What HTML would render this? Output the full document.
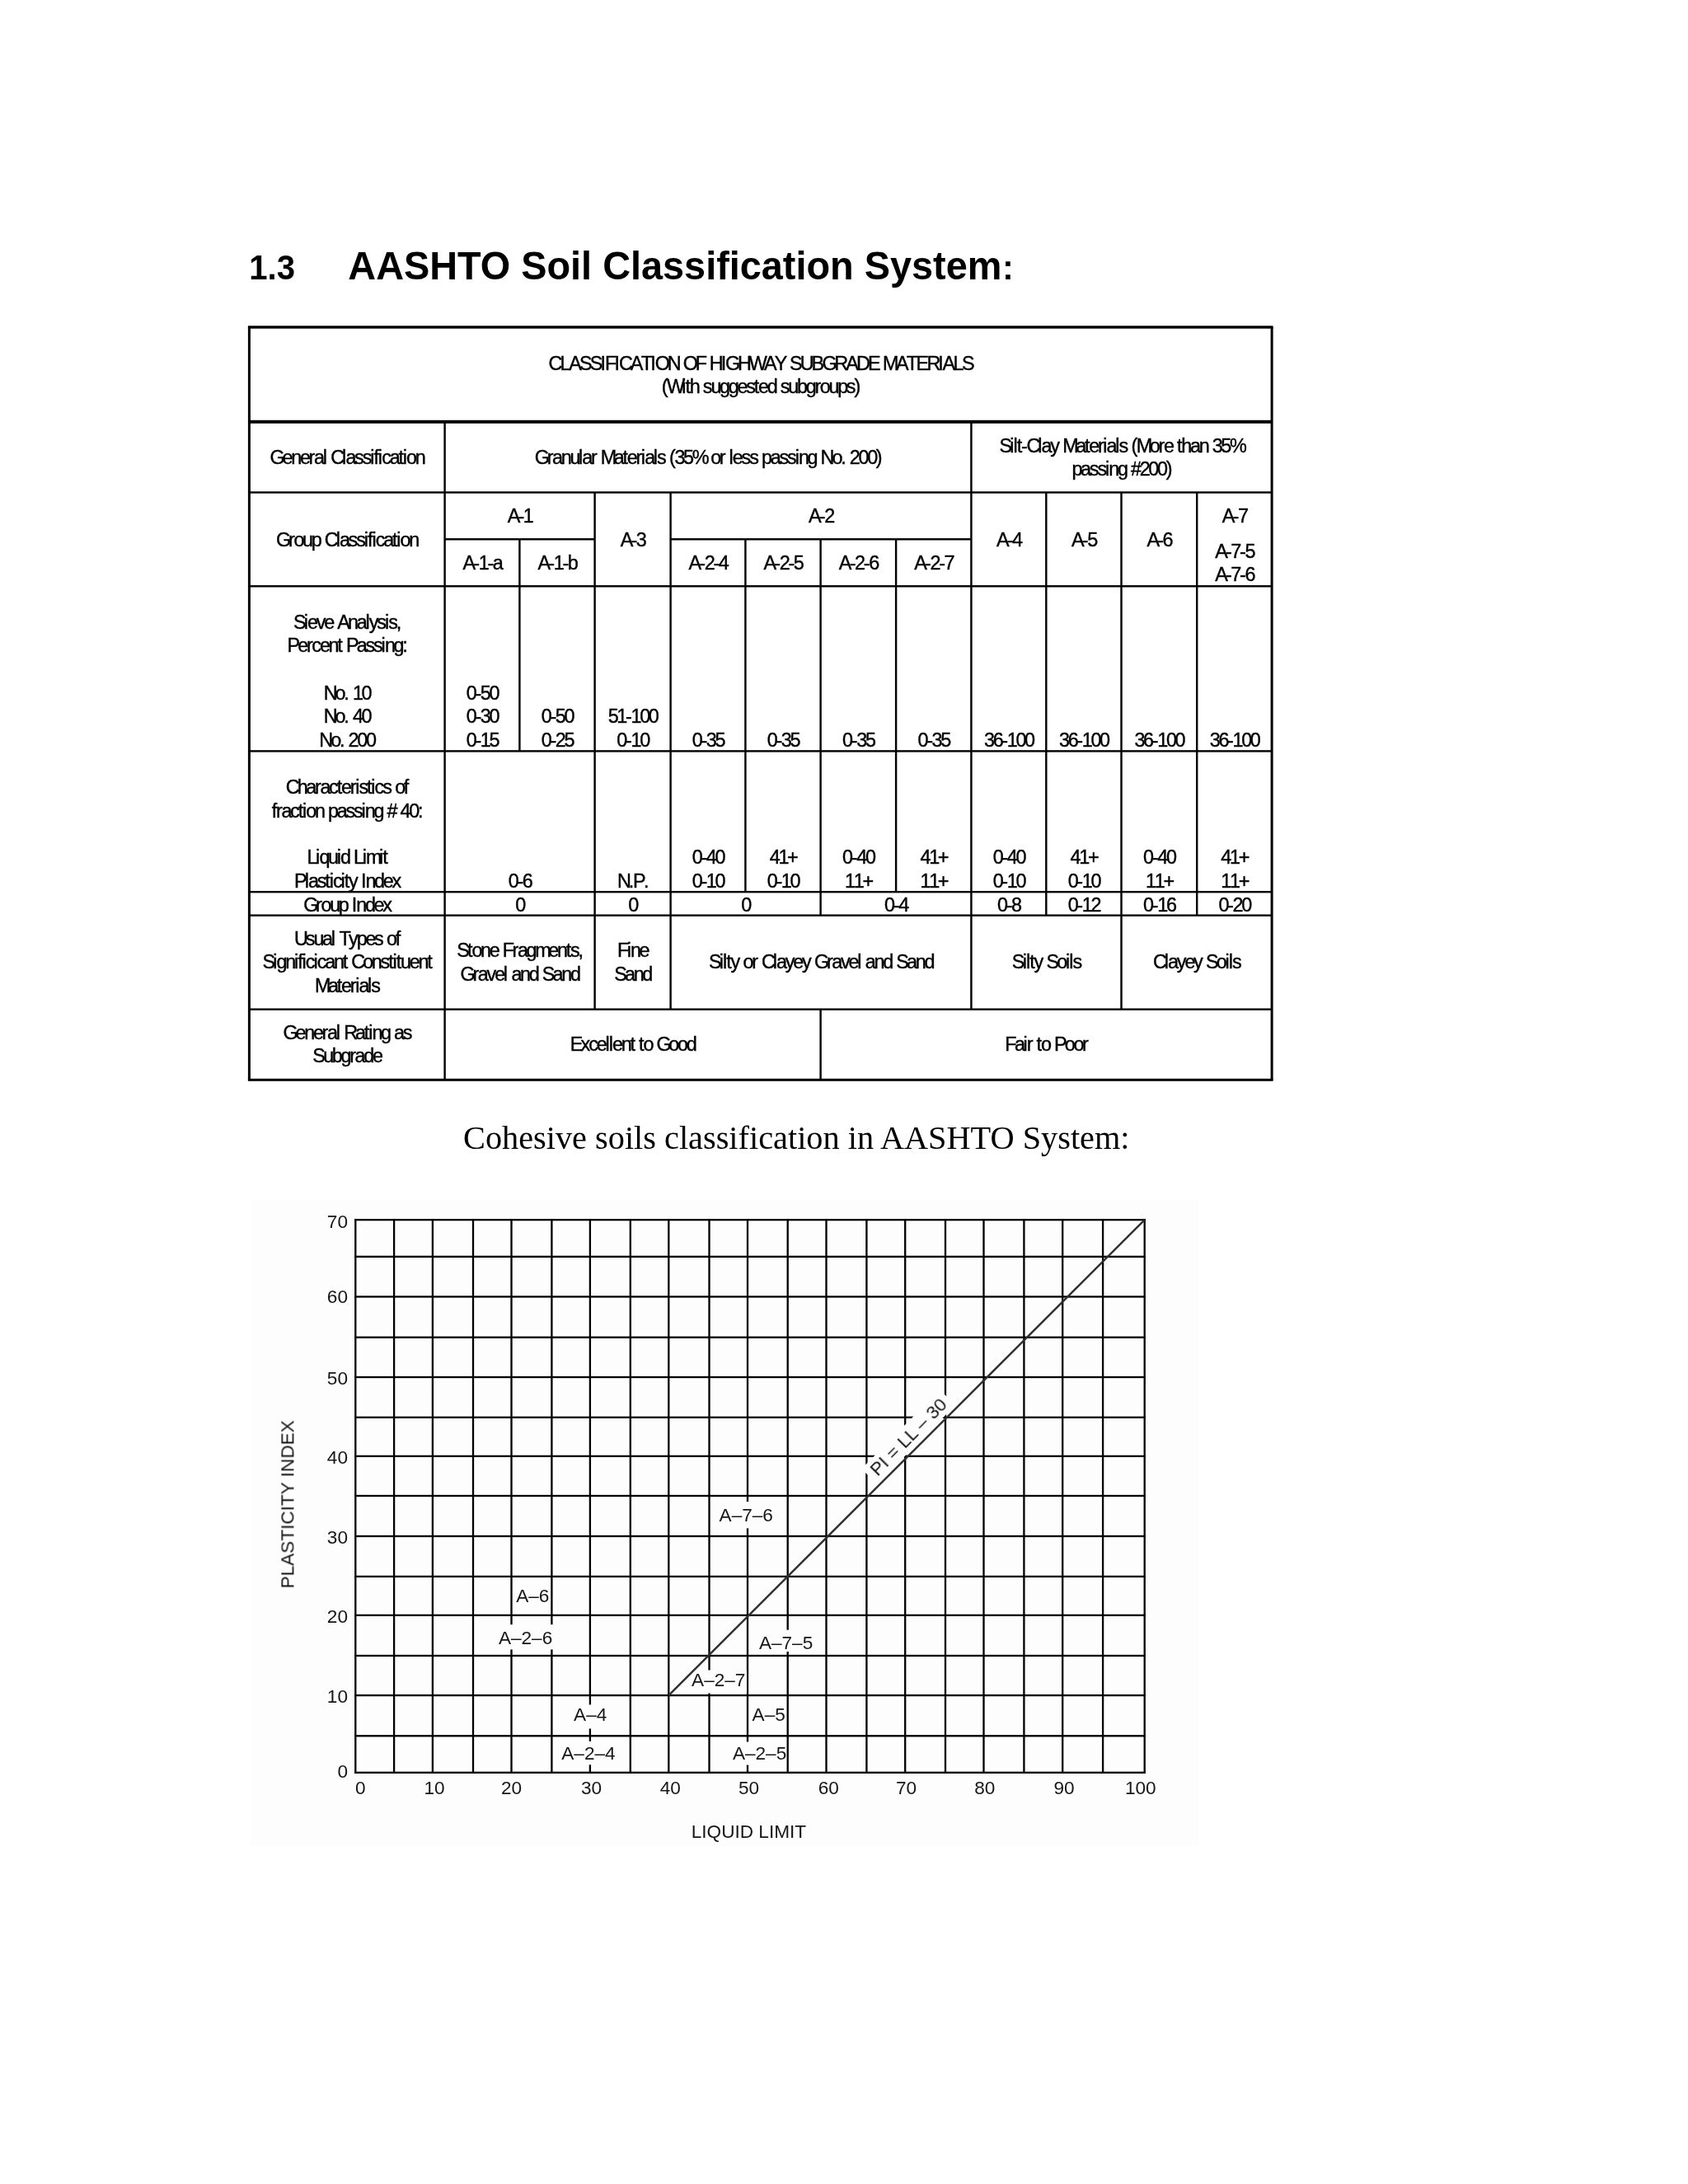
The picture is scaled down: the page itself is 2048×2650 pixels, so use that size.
<!DOCTYPE html>
<html><head><meta charset="utf-8"><title>AASHTO Soil Classification System</title>
<style>
html,body{margin:0;padding:0;background:#fff;}
body{width:2048px;height:2650px;position:relative;overflow:hidden;font-family:"Liberation Sans",sans-serif;}
svg{position:absolute;left:0;top:0;will-change:transform;}
.t{font-family:"Liberation Sans",sans-serif;font-size:23.42px;fill:#000;stroke:#000;stroke-width:0.4px;}
.c{font-family:"Liberation Sans",sans-serif;font-size:22.6px;fill:#161616;filter:url(#sb);}
.h1{font-family:"Liberation Sans",sans-serif;font-weight:bold;fill:#000;}
.s{font-family:"Liberation Serif",serif;font-size:40.3px;fill:#000;}
</style></head><body>
<svg width="2048" height="2650" viewBox="0 0 2048 2650">
<defs><filter id="sb" x="-10%" y="-30%" width="120%" height="160%"><feGaussianBlur stdDeviation="0.45"/></filter></defs>
<text class="h1" transform="translate(302.2 339) scale(1 1.045)" font-size="40.15">1.3</text>
<text class="h1" transform="translate(422.3 339) scale(1 1.045)" font-size="46.85">AASHTO Soil Classification System<tspan font-size="40.15" dx="0.8">:</tspan></text>
<g fill="#000">
<rect x="300.90" y="395.30" width="1243.70" height="3.40"/>
<rect x="300.90" y="1308.80" width="1243.70" height="3.00"/>
<rect x="300.90" y="397.00" width="3.00" height="913.30"/>
<rect x="1541.60" y="397.00" width="3.00" height="913.30"/>
<rect x="302.40" y="509.80" width="1240.70" height="4.00"/>
<rect x="302.40" y="596.30" width="1240.70" height="2.40"/>
<rect x="302.40" y="710.10" width="1240.70" height="2.40"/>
<rect x="302.40" y="910.20" width="1240.70" height="2.40"/>
<rect x="302.40" y="1081.00" width="1240.70" height="2.40"/>
<rect x="302.40" y="1109.50" width="1240.70" height="2.40"/>
<rect x="302.40" y="1223.50" width="1240.70" height="2.40"/>
<rect x="539.60" y="653.10" width="182.00" height="2.40"/>
<rect x="813.60" y="653.10" width="364.80" height="2.40"/>
<rect x="538.40" y="511.80" width="2.40" height="798.50"/>
<rect x="1177.20" y="511.80" width="2.40" height="712.90"/>
<rect x="629.20" y="654.30" width="2.40" height="257.10"/>
<rect x="720.40" y="597.50" width="2.40" height="627.20"/>
<rect x="812.40" y="597.50" width="2.40" height="627.20"/>
<rect x="903.20" y="654.30" width="2.40" height="427.90"/>
<rect x="994.40" y="654.30" width="2.40" height="456.40"/>
<rect x="994.40" y="1224.70" width="2.40" height="85.60"/>
<rect x="1085.90" y="654.30" width="2.40" height="427.90"/>
<rect x="1268.10" y="597.50" width="2.40" height="513.20"/>
<rect x="1359.30" y="597.50" width="2.40" height="627.20"/>
<rect x="1451.00" y="597.50" width="2.40" height="513.20"/>
</g>
<text class="t" transform="translate(0 449.0) scale(1 1.045)" x="665.59 679.45 690.13 702.94 715.75 728.56 733.90 745.63 750.96 764.83 777.64 789.37 794.71 809.65 823.52 828.85 843.79 855.52 860.86 874.72 880.06 895.00 908.87 926.99 939.80 952.61 957.95 970.76 984.62 997.43 1012.37 1026.24 1039.05 1052.92 1065.73 1071.06 1087.06 1099.87 1111.60 1124.41 1138.28 1143.62 1156.42 1167.11" y="0">CLASSIFICATION OF HIGHWAY SUBGRADE MATERIALS</text>
<text class="t" transform="translate(0 477.4) scale(1 1.045)" x="802.66 809.06 827.18 831.45 836.78 847.47 852.80 862.40 873.08 883.76 894.44 905.13 914.73 920.06 930.74 941.42 946.76 956.36 967.04 977.72 988.40 994.80 1005.48 1016.16 1026.84 1036.44" y="0">(With suggested subgroups)</text>
<text class="t" transform="translate(0 562.9) scale(1 1.045)" x="327.60 342.54 353.22 363.90 374.58 380.98 391.66 395.93 401.26 415.13 419.40 430.08 439.68 449.28 453.55 458.88 463.15 472.75 483.43 488.77 493.04 503.72" y="0">General Classification</text>
<text class="t" transform="translate(0 562.9) scale(1 1.045)" x="648.73 663.66 670.06 680.74 691.42 702.10 706.37 717.05 723.44 728.78 744.78 755.46 760.79 771.47 777.87 782.14 792.82 797.08 806.68 812.02 818.42 829.10 839.78 856.85 862.19 872.87 879.26 884.60 888.87 899.55 909.15 918.75 924.09 934.77 945.45 955.05 964.65 968.92 979.60 990.28 995.62 1009.49 1020.17 1025.50 1030.84 1041.52 1052.20 1062.88" y="0">Granular Materials (35% or less passing No. 200)</text>
<text class="t" transform="translate(0 548.7) scale(1 1.045)" x="1212.40 1225.21 1229.47 1233.74 1239.08 1245.47 1259.34 1263.61 1274.29 1283.89 1289.23 1305.22 1315.90 1321.24 1331.92 1338.32 1342.58 1353.26 1357.53 1367.13 1372.47 1378.86 1394.86 1405.54 1411.94 1422.62 1427.95 1433.29 1443.97 1454.65 1465.33 1470.67 1481.35 1492.03" y="0">Silt-Clay Materials (More than 35%</text>
<text class="t" transform="translate(0 577.1) scale(1 1.045)" x="1300.43 1311.11 1321.79 1331.39 1340.99 1345.26 1355.94 1366.62 1371.96 1382.64 1393.32 1404.00 1414.68" y="0">passing #200)</text>
<text class="t" transform="translate(0 662.7) scale(1 1.045)" x="335.08 350.01 356.41 367.09 377.77 388.45 393.79 407.66 411.92 422.60 432.21 441.81 446.07 451.41 455.68 465.28 475.96 481.30 485.56 496.24" y="0">Group Classification</text>
<text class="t" transform="translate(0 634.0) scale(1 1.045)" x="615.66 628.47 634.86" y="0">A-1</text>
<text class="t" transform="translate(0 690.9) scale(1 1.045)" x="561.52 574.33 580.72 591.40 597.80" y="0">A-1-a</text>
<text class="t" transform="translate(0 690.9) scale(1 1.045)" x="652.52 665.33 671.72 682.40 688.80" y="0">A-1-b</text>
<text class="t" transform="translate(0 662.7) scale(1 1.045)" x="752.66 765.47 771.86" y="0">A-3</text>
<text class="t" transform="translate(0 634.0) scale(1 1.045)" x="981.06 993.87 1000.26" y="0">A-2</text>
<text class="t" transform="translate(0 690.9) scale(1 1.045)" x="835.52 848.33 854.72 865.40 871.80" y="0">A-2-4</text>
<text class="t" transform="translate(0 690.9) scale(1 1.045)" x="926.52 939.33 945.72 956.40 962.80" y="0">A-2-5</text>
<text class="t" transform="translate(0 690.9) scale(1 1.045)" x="1017.87 1030.68 1037.07 1047.75 1054.15" y="0">A-2-6</text>
<text class="t" transform="translate(0 690.9) scale(1 1.045)" x="1109.27 1122.08 1128.47 1139.15 1145.55" y="0">A-2-7</text>
<text class="t" transform="translate(0 662.7) scale(1 1.045)" x="1208.91 1221.72 1228.11" y="0">A-4</text>
<text class="t" transform="translate(0 662.7) scale(1 1.045)" x="1299.96 1312.77 1319.16" y="0">A-5</text>
<text class="t" transform="translate(0 662.7) scale(1 1.045)" x="1391.41 1404.22 1410.61" y="0">A-6</text>
<text class="t" transform="translate(0 633.6) scale(1 1.045)" x="1482.71 1495.52 1501.91" y="0">A-7</text>
<text class="t" transform="translate(0 676.5) scale(1 1.045)" x="1474.17 1486.98 1493.37 1504.05 1510.45" y="0">A-7-5</text>
<text class="t" transform="translate(0 704.9) scale(1 1.045)" x="1474.17 1486.98 1493.37 1504.05 1510.45" y="0">A-7-6</text>
<text class="t" transform="translate(0 762.9) scale(1 1.045)" x="355.89 368.70 372.97 383.65 393.25 403.93 409.26 422.07 432.75 443.44 447.70 457.30 466.91 471.17 480.78" y="0">Sieve Analysis,</text>
<text class="t" transform="translate(0 791.3) scale(1 1.045)" x="348.41 361.22 371.90 378.30 387.90 398.58 409.26 414.60 419.93 432.74 443.42 453.02 462.63 466.89 477.57 488.25" y="0">Percent Passing:</text>
<text class="t" transform="translate(0 848.6) scale(1 1.045)" x="392.71 406.58 417.26 422.59 427.93 438.61" y="0">No. 10</text>
<text class="t" transform="translate(0 877.3) scale(1 1.045)" x="392.71 406.58 417.26 422.59 427.93 438.61" y="0">No. 40</text>
<text class="t" transform="translate(0 906.0) scale(1 1.045)" x="387.37 401.24 411.92 417.25 422.59 433.27 443.95" y="0">No. 200</text>
<text class="t" transform="translate(0 848.6) scale(1 1.045)" x="565.78 576.46 582.86 593.54" y="0">0-50</text>
<text class="t" transform="translate(0 877.3) scale(1 1.045)" x="565.78 576.46 582.86 593.54" y="0">0-30</text>
<text class="t" transform="translate(0 906.0) scale(1 1.045)" x="565.78 576.46 582.86 593.54" y="0">0-15</text>
<text class="t" transform="translate(0 877.3) scale(1 1.045)" x="656.78 667.46 673.86 684.54" y="0">0-50</text>
<text class="t" transform="translate(0 906.0) scale(1 1.045)" x="656.78 667.46 673.86 684.54" y="0">0-25</text>
<text class="t" transform="translate(0 877.3) scale(1 1.045)" x="737.70 748.38 759.06 765.46 776.14 786.82" y="0">51-100</text>
<text class="t" transform="translate(0 906.0) scale(1 1.045)" x="748.38 759.06 765.46 776.14" y="0">0-10</text>
<text class="t" transform="translate(0 906.0) scale(1 1.045)" x="839.78 850.46 856.86 867.54" y="0">0-35</text>
<text class="t" transform="translate(0 906.0) scale(1 1.045)" x="930.78 941.46 947.86 958.54" y="0">0-35</text>
<text class="t" transform="translate(0 906.0) scale(1 1.045)" x="1022.13 1032.81 1039.21 1049.89" y="0">0-35</text>
<text class="t" transform="translate(0 906.0) scale(1 1.045)" x="1113.53 1124.21 1130.61 1141.29" y="0">0-35</text>
<text class="t" transform="translate(0 906.0) scale(1 1.045)" x="1193.95 1204.63 1215.31 1221.71 1232.39 1243.07" y="0">36-100</text>
<text class="t" transform="translate(0 906.0) scale(1 1.045)" x="1285.00 1295.68 1306.36 1312.76 1323.44 1334.12" y="0">36-100</text>
<text class="t" transform="translate(0 906.0) scale(1 1.045)" x="1376.45 1387.13 1397.81 1404.21 1414.89 1425.57" y="0">36-100</text>
<text class="t" transform="translate(0 906.0) scale(1 1.045)" x="1467.75 1478.43 1489.11 1495.51 1506.19 1516.87" y="0">36-100</text>
<text class="t" transform="translate(0 963.1) scale(1 1.045)" x="346.83 360.70 371.38 382.06 388.45 399.13 408.73 414.07 424.75 431.15 435.41 445.02 450.35 454.62 464.22 473.82 479.16 489.84" y="0">Characteristics of</text>
<text class="t" transform="translate(0 991.5) scale(1 1.045)" x="329.72 335.06 341.45 352.13 361.74 367.07 371.34 382.02 392.70 398.04 408.72 419.40 429.00 438.60 442.87 453.55 464.23 469.56 480.25 485.58 496.26 506.94" y="0">fraction passing # 40:</text>
<text class="t" transform="translate(0 1048.4) scale(1 1.045)" x="372.43 383.11 387.38 398.06 408.74 413.01 423.69 429.02 439.70 443.97 459.97 464.23" y="0">Liquid Limit</text>
<text class="t" transform="translate(0 1076.8) scale(1 1.045)" x="356.96 369.77 374.03 384.72 394.32 399.65 403.92 413.52 417.79 423.12 432.73 438.06 443.40 454.08 464.76 475.44" y="0">Plasticity Index</text>
<text class="t" transform="translate(0 1048.4) scale(1 1.045)" x="839.78 850.46 856.86 867.54" y="0">0-40</text>
<text class="t" transform="translate(0 1076.8) scale(1 1.045)" x="839.78 850.46 856.86 867.54" y="0">0-10</text>
<text class="t" transform="translate(0 1048.4) scale(1 1.045)" x="933.71 944.39 955.07" y="0">41+</text>
<text class="t" transform="translate(0 1076.8) scale(1 1.045)" x="930.78 941.46 947.86 958.54" y="0">0-10</text>
<text class="t" transform="translate(0 1048.4) scale(1 1.045)" x="1022.13 1032.81 1039.21 1049.89" y="0">0-40</text>
<text class="t" transform="translate(0 1076.8) scale(1 1.045)" x="1025.06 1035.74 1046.42" y="0">11+</text>
<text class="t" transform="translate(0 1048.4) scale(1 1.045)" x="1116.46 1127.14 1137.82" y="0">41+</text>
<text class="t" transform="translate(0 1076.8) scale(1 1.045)" x="1116.46 1127.14 1137.82" y="0">11+</text>
<text class="t" transform="translate(0 1048.4) scale(1 1.045)" x="1204.63 1215.31 1221.71 1232.39" y="0">0-40</text>
<text class="t" transform="translate(0 1076.8) scale(1 1.045)" x="1204.63 1215.31 1221.71 1232.39" y="0">0-10</text>
<text class="t" transform="translate(0 1048.4) scale(1 1.045)" x="1298.61 1309.29 1319.97" y="0">41+</text>
<text class="t" transform="translate(0 1076.8) scale(1 1.045)" x="1295.68 1306.36 1312.76 1323.44" y="0">0-10</text>
<text class="t" transform="translate(0 1048.4) scale(1 1.045)" x="1387.13 1397.81 1404.21 1414.89" y="0">0-40</text>
<text class="t" transform="translate(0 1076.8) scale(1 1.045)" x="1390.06 1400.74 1411.42" y="0">11+</text>
<text class="t" transform="translate(0 1048.4) scale(1 1.045)" x="1481.36 1492.04 1502.72" y="0">41+</text>
<text class="t" transform="translate(0 1076.8) scale(1 1.045)" x="1481.36 1492.04 1502.72" y="0">11+</text>
<text class="t" transform="translate(0 1076.8) scale(1 1.045)" x="616.72 627.40 633.80" y="0">0-6</text>
<text class="t" transform="translate(0 1076.8) scale(1 1.045)" x="748.93 762.79 768.13 780.94" y="0">N.P.</text>
<text class="t" transform="translate(0 1105.8) scale(1 1.045)" x="368.15 383.09 389.49 400.17 410.85 421.53 426.87 432.20 442.88 453.56 464.24" y="0">Group Index</text>
<text class="t" transform="translate(0 1105.8) scale(1 1.045)" x="625.26" y="0">0</text>
<text class="t" transform="translate(0 1105.8) scale(1 1.045)" x="762.26" y="0">0</text>
<text class="t" transform="translate(0 1105.8) scale(1 1.045)" x="899.26" y="0">0</text>
<text class="t" transform="translate(0 1105.8) scale(1 1.045)" x="1073.12 1083.80 1090.20" y="0">0-4</text>
<text class="t" transform="translate(0 1105.8) scale(1 1.045)" x="1209.97 1220.65 1227.05" y="0">0-8</text>
<text class="t" transform="translate(0 1105.8) scale(1 1.045)" x="1295.68 1306.36 1312.76 1323.44" y="0">0-12</text>
<text class="t" transform="translate(0 1105.8) scale(1 1.045)" x="1387.13 1397.81 1404.21 1414.89" y="0">0-16</text>
<text class="t" transform="translate(0 1105.8) scale(1 1.045)" x="1478.43 1489.11 1495.51 1506.19" y="0">0-20</text>
<text class="t" transform="translate(0 1146.7) scale(1 1.045)" x="356.96 370.83 380.43 391.11 401.79 406.06 411.39 423.12 432.73 443.41 454.09 463.69 469.03 479.71" y="0">Usual Types of</text>
<text class="t" transform="translate(0 1175.2) scale(1 1.045)" x="318.52 331.33 335.60 346.28 356.96 361.23 366.56 370.83 380.43 384.70 394.30 404.98 415.66 421.00 426.33 440.20 450.88 461.56 471.16 476.50 480.77 486.10 496.78 507.46 518.14" y="0">Significicant Constituent</text>
<text class="t" transform="translate(0 1203.6) scale(1 1.045)" x="382.05 398.04 408.73 414.06 424.74 431.14 435.40 446.08 450.35" y="0">Materials</text>
<text class="t" transform="translate(0 1161.0) scale(1 1.045)" x="554.28 567.09 572.42 583.10 593.79 604.47 609.80 621.53 627.93 638.61 649.29 665.29 675.97 686.65 691.98 701.59" y="0">Stone Fragments,</text>
<text class="t" transform="translate(0 1189.9) scale(1 1.045)" x="558.54 573.47 579.87 590.55 600.15 610.83 615.10 620.44 631.12 641.80 652.48 657.81 670.62 681.30 691.98" y="0">Gravel and Sand</text>
<text class="t" transform="translate(0 1161.0) scale(1 1.045)" x="748.92 760.65 764.92 775.60" y="0">Fine</text>
<text class="t" transform="translate(0 1189.9) scale(1 1.045)" x="745.17 757.98 768.66 779.34" y="0">Sand</text>
<text class="t" transform="translate(0 1175.2) scale(1 1.045)" x="859.90 872.71 876.98 881.25 886.58 896.18 901.52 912.20 918.60 923.93 937.80 942.07 952.75 962.35 973.03 982.63 987.97 1002.91 1009.30 1019.98 1029.58 1040.26 1044.53 1049.87 1060.55 1071.23 1081.91 1087.24 1100.05 1110.73 1121.42" y="0">Silty or Clayey Gravel and Sand</text>
<text class="t" transform="translate(0 1175.2) scale(1 1.045)" x="1227.83 1240.64 1244.91 1249.17 1254.51 1264.11 1269.45 1282.25 1292.94 1297.20 1301.47" y="0">Silty Soils</text>
<text class="t" transform="translate(0 1175.2) scale(1 1.045)" x="1398.97 1412.84 1417.10 1427.79 1437.39 1448.07 1457.67 1463.01 1475.81 1486.50 1490.76 1495.03" y="0">Clayey Soils</text>
<text class="t" transform="translate(0 1260.5) scale(1 1.045)" x="343.61 358.54 369.22 379.90 390.59 396.98 407.66 411.93 417.26 431.13 441.81 447.15 451.41 462.10 472.78 478.11 488.79" y="0">General Rating as</text>
<text class="t" transform="translate(0 1288.9) scale(1 1.045)" x="379.36 392.17 402.85 413.53 424.21 430.60 441.28 451.96" y="0">Subgrade</text>
<text class="t" transform="translate(0 1274.7) scale(1 1.045)" x="691.80 704.61 714.22 723.82 734.50 738.77 743.03 753.71 764.39 769.73 775.06 780.40 791.08 796.42 811.35 822.03 832.72" y="0">Excellent to Good</text>
<text class="t" transform="translate(0 1274.7) scale(1 1.045)" x="1219.19 1230.92 1241.60 1245.86 1252.26 1257.60 1262.93 1273.61 1278.95 1291.76 1302.44 1313.12" y="0">Fair to Poor</text>
<text class="s" x="562" y="1394.0">Cohesive soils classification in AASHTO System:</text>
<rect x="304" y="1456.5" width="1151" height="783.5" fill="#fdfdfd"/>
<g fill="#000">
<rect x="430.15" y="1478.95" width="2.30" height="673.00"/>
<rect x="476.95" y="1478.95" width="2.30" height="673.00"/>
<rect x="523.75" y="1478.95" width="2.30" height="673.00"/>
<rect x="572.85" y="1478.95" width="2.30" height="673.00"/>
<rect x="619.35" y="1478.95" width="2.30" height="673.00"/>
<rect x="668.25" y="1478.95" width="2.30" height="673.00"/>
<rect x="714.75" y="1478.95" width="2.30" height="673.00"/>
<rect x="763.65" y="1478.95" width="2.30" height="673.00"/>
<rect x="810.15" y="1478.95" width="2.30" height="673.00"/>
<rect x="859.35" y="1478.95" width="2.30" height="673.00"/>
<rect x="905.85" y="1478.95" width="2.30" height="673.00"/>
<rect x="954.55" y="1478.95" width="2.30" height="673.00"/>
<rect x="1001.35" y="1478.95" width="2.30" height="673.00"/>
<rect x="1050.25" y="1478.95" width="2.30" height="673.00"/>
<rect x="1097.05" y="1478.95" width="2.30" height="673.00"/>
<rect x="1145.85" y="1478.95" width="2.30" height="673.00"/>
<rect x="1192.35" y="1478.95" width="2.30" height="673.00"/>
<rect x="1241.25" y="1478.95" width="2.30" height="673.00"/>
<rect x="1288.05" y="1478.95" width="2.30" height="673.00"/>
<rect x="1336.95" y="1478.95" width="2.30" height="673.00"/>
<rect x="1387.55" y="1478.95" width="2.30" height="673.00"/>
<rect x="430.15" y="2149.65" width="959.70" height="2.30"/>
<rect x="430.15" y="2105.15" width="959.70" height="2.30"/>
<rect x="430.15" y="2055.95" width="959.70" height="2.30"/>
<rect x="430.15" y="2007.85" width="959.70" height="2.30"/>
<rect x="430.15" y="1958.75" width="959.70" height="2.30"/>
<rect x="430.15" y="1911.75" width="959.70" height="2.30"/>
<rect x="430.15" y="1862.85" width="959.70" height="2.30"/>
<rect x="430.15" y="1813.85" width="959.70" height="2.30"/>
<rect x="430.15" y="1765.75" width="959.70" height="2.30"/>
<rect x="430.15" y="1718.65" width="959.70" height="2.30"/>
<rect x="430.15" y="1669.85" width="959.70" height="2.30"/>
<rect x="430.15" y="1621.55" width="959.70" height="2.30"/>
<rect x="430.15" y="1572.25" width="959.70" height="2.30"/>
<rect x="430.15" y="1523.65" width="959.70" height="2.30"/>
<rect x="430.15" y="1478.95" width="959.70" height="2.30"/>
</g>
<rect x="868.0" y="1822.1" width="74.0" height="32.3" fill="#fdfdfd"/>
<rect x="600.0" y="1971.2" width="76.0" height="30.2" fill="#fdfdfd"/>
<rect x="692.0" y="2068.4" width="46.0" height="29.1" fill="#fdfdfd"/>
<rect x="677.0" y="2112.9" width="74.0" height="28.4" fill="#fdfdfd"/>
<rect x="916.0" y="1977.7" width="73.0" height="26.3" fill="#fdfdfd"/>
<rect x="835.0" y="2026.5" width="71.0" height="28.0" fill="#fdfdfd"/>
<rect x="885.0" y="2113.5" width="68.0" height="28.1" fill="#fdfdfd"/>
<g transform="translate(1064.84 1801.56) rotate(-45.3)">
<rect x="0" y="-27.5" width="135" height="26.5" fill="#fdfdfd"/>
<text class="c" transform="translate(67.5 -6.8)" text-anchor="middle">PI = LL – 30</text>
</g>
<line x1="811.3" y1="2057.1" x2="1388.7" y2="1480.1" stroke="#2e2e2e" stroke-width="2.4"/>
<text class="c" transform="translate(872.6 1846.3) scale(1 1.000)" text-anchor="start">A–7–6</text>
<text class="c" transform="translate(626.2 1943.9) scale(1 1.000)" text-anchor="start">A–6</text>
<text class="c" transform="translate(604.9 1994.9) scale(1 1.000)" text-anchor="start">A–2–6</text>
<text class="c" transform="translate(696.1 2088.0) scale(1 1.000)" text-anchor="start">A–4</text>
<text class="c" transform="translate(681.3 2134.8) scale(1 1.000)" text-anchor="start">A–2–4</text>
<text class="c" transform="translate(920.9 2001.1) scale(1 1.000)" text-anchor="start">A–7–5</text>
<text class="c" transform="translate(839.1 2045.9) scale(1 1.000)" text-anchor="start">A–2–7</text>
<text class="c" transform="translate(912.6 2088.2) scale(1 1.000)" text-anchor="start">A–5</text>
<text class="c" transform="translate(888.9 2134.5) scale(1 1.000)" text-anchor="start">A–2–5</text>
<text class="c" transform="translate(422.0 2156.6) scale(1 1.000)" text-anchor="end">0</text>
<text class="c" transform="translate(422.0 2066.0) scale(1 1.000)" text-anchor="end">10</text>
<text class="c" transform="translate(422.0 1968.7) scale(1 1.000)" text-anchor="end">20</text>
<text class="c" transform="translate(422.0 1873.1) scale(1 1.000)" text-anchor="end">30</text>
<text class="c" transform="translate(422.0 1776.2) scale(1 1.000)" text-anchor="end">40</text>
<text class="c" transform="translate(422.0 1680.4) scale(1 1.000)" text-anchor="end">50</text>
<text class="c" transform="translate(422.0 1580.5) scale(1 1.000)" text-anchor="end">60</text>
<text class="c" transform="translate(422.0 1490.2) scale(1 1.000)" text-anchor="end">70</text>
<text class="c" transform="translate(437.3 2176.8) scale(1 1.000)" text-anchor="middle">0</text>
<text class="c" transform="translate(527.0 2176.8) scale(1 1.000)" text-anchor="middle">10</text>
<text class="c" transform="translate(620.6 2176.8) scale(1 1.000)" text-anchor="middle">20</text>
<text class="c" transform="translate(717.6 2176.8) scale(1 1.000)" text-anchor="middle">30</text>
<text class="c" transform="translate(813.3 2176.8) scale(1 1.000)" text-anchor="middle">40</text>
<text class="c" transform="translate(908.6 2176.8) scale(1 1.000)" text-anchor="middle">50</text>
<text class="c" transform="translate(1005.2 2176.8) scale(1 1.000)" text-anchor="middle">60</text>
<text class="c" transform="translate(1099.6 2176.8) scale(1 1.000)" text-anchor="middle">70</text>
<text class="c" transform="translate(1194.8 2176.8) scale(1 1.000)" text-anchor="middle">80</text>
<text class="c" transform="translate(1291.0 2176.8) scale(1 1.000)" text-anchor="middle">90</text>
<text class="c" transform="translate(1383.8 2176.8) scale(1 1.000)" text-anchor="middle">100</text>
<text class="c" transform="translate(908.4 2230.0) scale(1 1.000)" text-anchor="middle">LIQUID LIMIT</text>
<text class="c" transform="translate(356.4 1825.4) rotate(-90)" text-anchor="middle">PLASTICITY INDEX</text>
</svg>
</body></html>
